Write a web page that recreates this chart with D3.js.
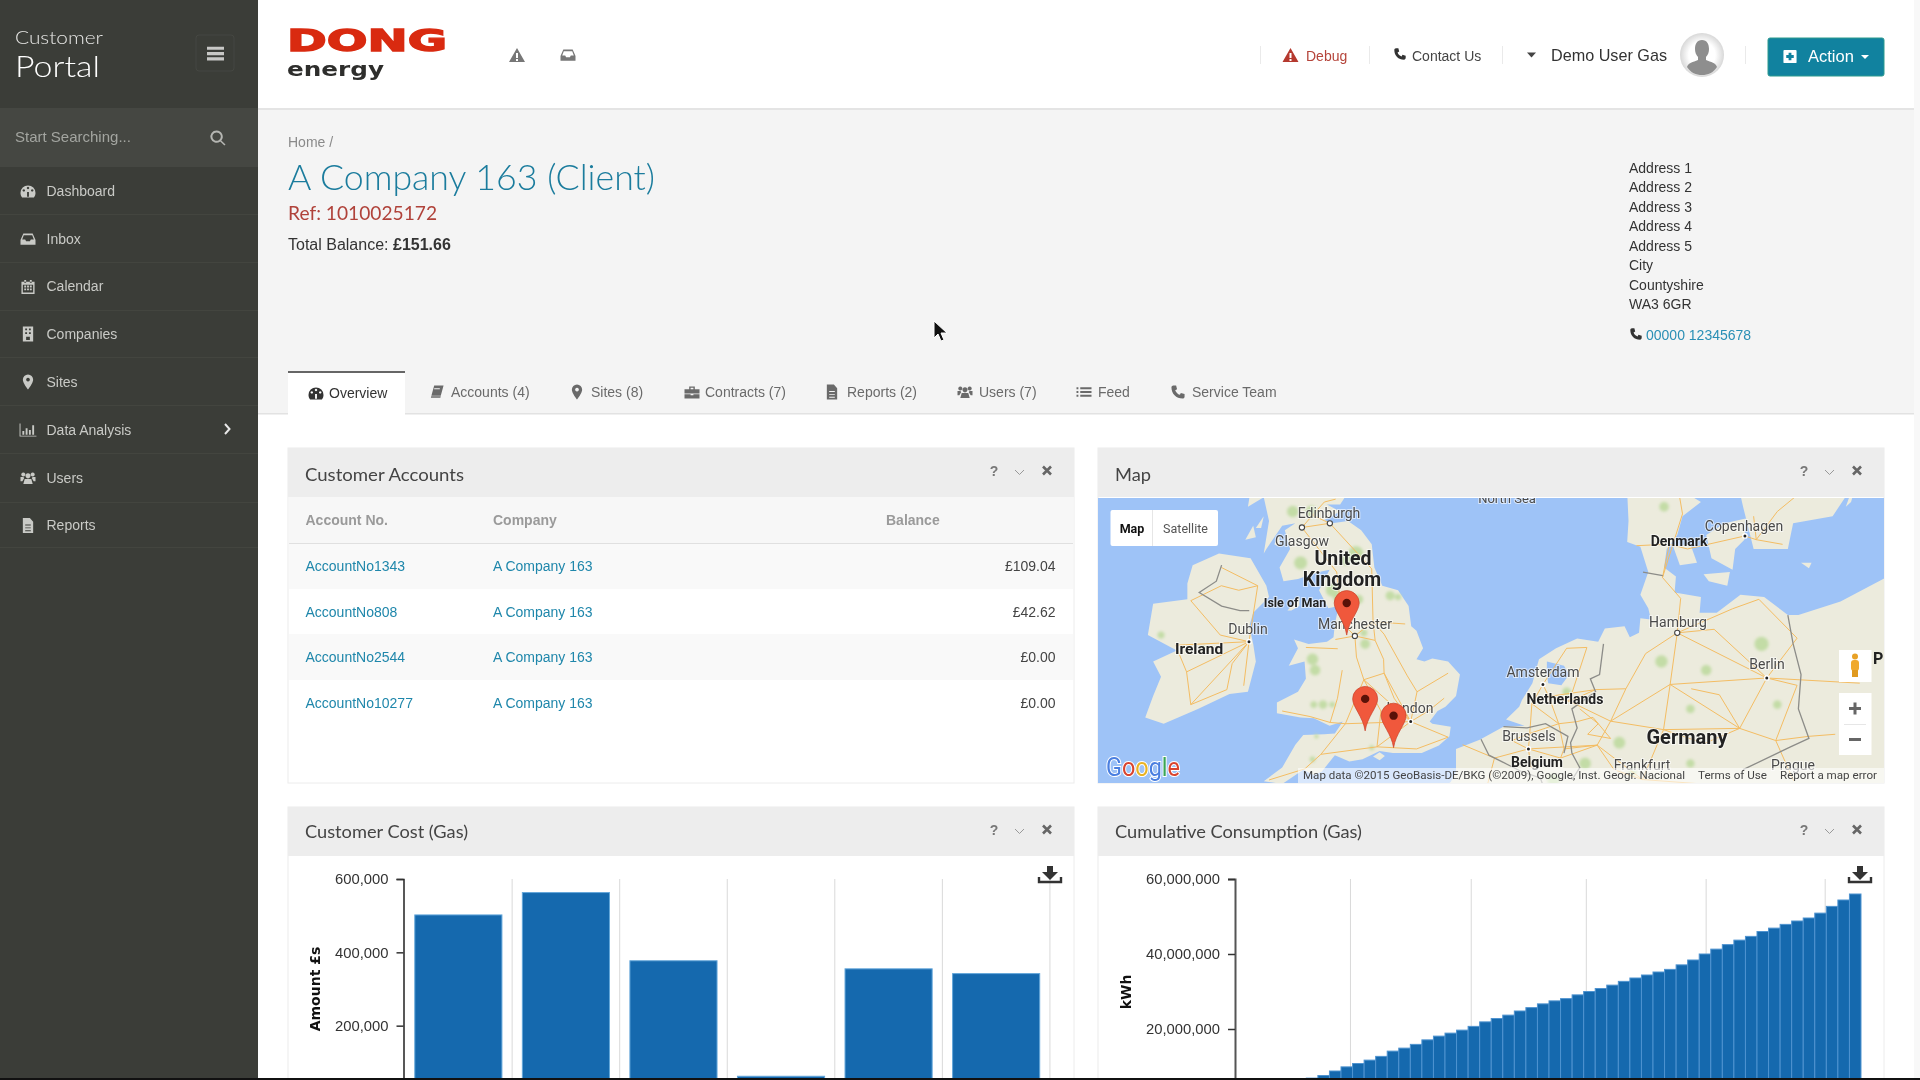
<!DOCTYPE html>
<html>
<head>
<meta charset="utf-8">
<title>Customer Portal</title>
<script src="https://cdn.jsdelivr.net/npm/d3@7"></script>
<style>
html, body { margin: 0; padding: 0; background: #fff; overflow: hidden; }
svg { display: block; filter: blur(0.4px); }
text { font-family: "Liberation Sans", Arial, sans-serif; }
</style>
</head>
<body>
<script>
// chart values
var costCategories = ['1', '2', '3', '4', '5', '6'];
var costValues = [502000, 563000, 377000, 62000, 355000, 342000];
var costTicks = [200000, 400000, 600000];

// cumulative consumption, millions of kWh, one entry per visible bar
var cumulativeValues = [1.3, 2.3, 3.2, 4.1, 5.1, 6.0, 6.9, 7.6, 8.8, 9.9, 10.8, 11.7, 12.7, 14.1, 14.9, 15.9, 17.1, 18.1,
	18.9, 19.7, 20.7, 21.9, 22.8, 23.7, 24.8, 25.7, 26.7, 27.5, 28.1, 29.1, 30.0, 30.8, 31.7, 32.7, 33.6, 34.4,
	35.2, 35.9, 37.1, 38.4, 40.0, 41.3, 42.5, 43.7, 44.7, 46.0, 46.9, 47.9, 48.8, 49.6, 50.9, 52.7, 54.4, 56.0];
var cumulativeTicks = [20000000, 40000000, 60000000];
var cumulativeGrid = [9.82, 20.27, 30.23, 40.6, 50.9];

// page content
var menuItems = [['Dashboard', 'gauge'], ['Inbox', 'inbox'], ['Calendar', 'calendar'], ['Companies', 'building'],
	['Sites', 'pin'], ['Data Analysis', 'bars'], ['Users', 'users'], ['Reports', 'file']];
var tabItems = [['Overview', 'gauge'], ['Accounts (4)', 'book'], ['Sites (8)', 'pin'], ['Contracts (7)', 'briefcase'],
	['Reports (2)', 'file'], ['Users (7)', 'users'], ['Feed', 'list'], ['Service Team', 'phone']];
var accounts = ['AccountNo1343', 'AccountNo808', 'AccountNo2544', 'AccountNo10277'];
var balances = ['£109.04', '£42.62', '£0.00', '£0.00'];
var addressLines = ['Address 1', 'Address 2', 'Address 3', 'Address 4', 'Address 5', 'City', 'Countyshire', 'WA3 6GR'];

// map geography as [lon, lat]
var siteMarkers = [[-2.55, 53.50], [-1.85, 51.28], [-0.77, 50.88]];
var greatBritain = [[-4,58.5],[-2,57.7],[-1.8,57.4],[-2.1,57.1],[-2.5,56.6],[-2.8,56.35],[-3.3,56.35],[-2.8,56.2],[-3.4,56.02],[-3.1,55.95],[-2.5,56.0],[-2.0,55.8],[-1.6,55.5],[-1.5,55.0],[-1.2,54.6],[-0.6,54.5],[-0.2,54.15],[-0.1,53.7],[0.1,53.6],[0.35,53.2],[0.1,52.95],[0.4,52.9],[0.7,52.97],[1.3,52.9],[1.75,52.6],[1.6,52.1],[1.2,51.85],[0.9,51.75],[0.6,51.5],[0.7,51.45],[1.4,51.38],[1.35,51.15],[0.95,50.93],[0.3,50.75],[-0.8,50.75],[-1.3,50.8],[-1.95,50.6],[-2.45,50.55],[-3.0,50.7],[-3.5,50.3],[-3.8,50.22],[-4.2,50.35],[-5.0,50.0],[-5.7,50.07],[-5.0,50.4],[-4.5,50.95],[-4.2,51.18],[-3.4,51.2],[-3.0,51.22],[-2.7,51.5],[-3.2,51.4],[-3.8,51.58],[-4.3,51.6],[-5.2,51.7],[-5.2,51.95],[-4.4,52.2],[-4.1,52.5],[-4.15,52.9],[-4.75,52.8],[-4.4,53.2],[-4.55,53.4],[-4.0,53.3],[-3.3,53.35],[-3.05,53.45],[-3.0,53.75],[-2.85,54.15],[-3.25,54.1],[-3.6,54.5],[-3.2,54.95],[-3.6,54.9],[-4.4,54.75],[-4.95,54.7],[-5.1,55.0],[-4.7,55.4],[-4.9,55.8],[-4.5,55.95],[-5.0,55.9],[-5.6,55.4],[-5.7,55.3],[-5.5,56.0],[-5.7,56.5],[-6.2,56.7],[-5.7,57.5],[-5,58.6]];
var ireland = [[-7.4,55.3],[-6.2,55.2],[-5.6,54.6],[-5.5,54.35],[-6.1,54.0],[-6.25,53.7],[-6.1,53.3],[-6.0,52.9],[-6.3,52.2],[-7.0,52.15],[-8.2,51.8],[-9.5,51.45],[-10.2,51.6],[-9.9,52.1],[-9.6,52.55],[-9.9,52.9],[-9.0,53.15],[-10.1,53.5],[-9.9,54.2],[-8.6,54.3],[-8.6,54.65],[-8.4,55.05]];
var continent = [[-5,48],[-1.6,48.6],[-1.8,49.7],[-1.25,49.7],[-1.1,49.35],[0.1,49.45],[1.4,50.05],[1.6,50.3],[1.6,50.85],[2.5,51.07],[3.4,51.38],[4.2,51.4],[3.5,51.55],[4.0,51.85],[4.1,52.0],[4.5,52.4],[4.75,52.95],[5.4,53.2],[6.2,53.42],[7.0,53.35],[7.25,53.65],[8.0,53.7],[8.2,53.45],[8.55,53.55],[8.6,53.88],[9.0,53.85],[8.9,54.1],[8.6,54.4],[8.9,54.9],[8.6,55.45],[8.1,55.55],[8.15,56.0],[8.1,56.6],[8.25,57.0],[9.6,57.2],[10.6,57.72],[10.5,57.0],[10.3,56.6],[10.9,56.4],[10.2,56.1],[10.0,55.7],[9.6,55.4],[9.5,55.0],[9.95,54.8],[9.9,54.45],[10.9,54.35],[10.85,54.0],[11.5,54.0],[12.4,54.4],[13.3,54.35],[14.2,53.95],[14.6,53.95],[16.2,54.25],[18.0,54.8],[18.5,54.6],[20,54.4],[20,45],[-5,45]];
var smallLands = [
	[[-4.8,54.05],[-4.35,54.35],[-4.35,54.15],[-4.65,54.05]],
	[[-6.4,55.6],[-6.1,55.9],[-6.0,55.65]],
	[[-6,55.85],[-5.7,56.1],[-5.8,55.85]],
	[[-6.3,56.3],[-5.7,56.5],[-6.2,56.65]],
	[[-5.3,55.5],[-5.1,55.7],[-5.1,55.45]],
	[[-1.55,50.67],[-1.3,50.77],[-1.1,50.68],[-1.3,50.58]],
	[[11.1,55.7],[11.8,55.95],[12.6,56.05],[12.55,55.6],[12.2,55.4],[12.1,54.95],[11.3,55.2]],
	[[9.85,55.45],[10.5,55.5],[10.75,55.1],[10.1,55.05]],
	[[11.0,54.85],[12.0,54.9],[11.9,54.6],[11.2,54.7]],
	[[12.5,56.3],[12.9,55.4],[14.2,55.4],[14.4,55.95],[15.9,56.1],[16.5,56.6],[16.5,58],[12,58],[12.0,57.5]],
	[[14.7,55.1],[15.1,55.1],[15.0,54.98]],
	[[16.4,56.3],[17.05,57.3],[16.6,56.4]]
];
var ijsselmeer = [[5.05,52.9],[5.4,52.85],[5.7,52.8],[5.9,52.6],[5.6,52.35],[5.1,52.4],[5.05,52.6]];
// lon, lat, radius in degrees
var parks = [[-3.1,54.5,0.14],[-2.9,54.35,0.1],[-1.85,53.3,0.11],[-1.9,53.55,0.08],[-0.9,54.38,0.1],[-0.6,54.35,0.07],[-3.85,52.95,0.13],[-3.75,52.7,0.12],[-3.45,51.9,0.1],[-3.1,51.9,0.07],[-3.8,51.9,0.08],[-1.6,50.88,0.06],[-3.85,50.6,0.07],[-3.7,51.15,0.05],[-2.2,55.3,0.16],[-2.6,55.15,0.1],[-3.9,56.2,0.12],[-4.6,56.2,0.12],[-4.3,55.1,0.14],[-2.1,54.3,0.1],
	[-8.0,53.2,0.05],[-9.6,53.5,0.08],[6.5,50.5,0.14],[7.8,51.0,0.14],[10.5,51.8,0.1],[9.4,52.9,0.14],[11.1,52.7,0.12],[13.2,53.3,0.16],[8.3,50.3,0.1],[10.5,50.5,0.1],[5.8,52.2,0.1],[9.5,56.3,0.1],[5.3,50.1,0.15],[13.8,51.9,0.1]];
var roads = [
	[[-3.19,55.95],[-4.25,55.86]], [[-3.19,55.95],[-1.6,54.97],[-1.55,53.8],[-1.47,53.38],[-1.15,52.95],[-1.13,52.63],[-0.12,51.5]],
	[[-4.25,55.86],[-2.93,54.9],[-2.7,53.76],[-2.24,53.48],[-2.18,53.0],[-1.9,52.48],[-2.6,51.45],[-3.53,50.72],[-4.14,50.37],[-5.5,50.1]],
	[[-1.9,52.48],[-0.12,51.5]], [[-0.12,51.5],[-2.6,51.45],[-3.18,51.48],[-3.94,51.62],[-5.0,51.75]], [[-0.12,51.5],[1.3,51.13]],
	[[-0.12,51.5],[-1.4,50.9],[-3.53,50.72]], [[-0.12,51.5],[0.12,52.2],[1.3,52.63]], [[0.12,52.2],[-0.25,52.57],[-1.13,53.52],[-1.55,53.8]],
	[[-2.98,53.4],[-2.24,53.48],[-1.55,53.8],[-0.33,53.75]], [[-2.89,53.19],[-4.1,53.22]], [[-1.4,50.9],[0.1,50.85],[1.3,51.13]],
	[[-1.9,52.48],[-1.13,52.63]], [[-3.18,51.48],[-2.9,52.05],[-2.72,52.7]], [[-1.25,51.75],[-1.9,52.48]], [[-1.25,51.75],[-1.4,50.9]], [[-0.12,51.5],[0.55,51.75],[1.15,52.05]],
	[[-2.24,53.48],[-1.47,53.38]], [[-0.12,51.5],[-0.75,52.05],[-1.13,52.63]], [[-4.25,55.86],[-3.85,56.12],[-3.19,55.95]], [[-3.85,56.12],[-3.4,56.4],[-2.97,56.46]],
	[[-6.26,53.35],[-5.93,54.6],[-7.31,55.0]], [[-6.26,53.35],[-8.47,51.9]], [[-6.26,53.35],[-8.63,52.66]], [[-6.26,53.35],[-6.46,52.34]], [[-6.26,53.35],[-9.05,53.27]],
	[[-5.93,54.6],[-6.65,54.5],[-7.31,54.6],[-8.47,54.27]], [[-6.26,53.35],[-7.35,53.5],[-8.47,54.27]], [[-8.47,51.9],[-8.63,52.66],[-9.05,53.27]], [[-7.1,52.25],[-6.9,52.85],[-6.26,53.35]], [[-7.1,52.25],[-8.47,51.9]],
	[[4.9,52.37],[4.48,51.92],[4.4,51.22],[4.35,50.85]], [[4.9,52.37],[5.12,52.09],[5.9,51.98],[7.47,51.51],[9.73,52.37],[13.4,52.52]],
	[[4.35,50.85],[6.96,50.94],[8.68,50.11],[11,50]], [[7.47,51.51],[6.96,50.94]], [[8.8,53.08],[10,53.55],[9.73,52.37]],
	[[10,53.55],[10.13,54.32],[9.44,54.78],[10.2,56.15],[9.92,57.05]], [[10,53.55],[13.4,52.52]], [[13.4,52.52],[12.37,51.34],[9.73,52.37]],
	[[12.37,51.34],[13.74,51.05],[14.42,50.08]], [[13.4,52.52],[14.55,53.43]], [[13.4,52.52],[16.93,52.4]], [[12.57,55.68],[10.39,55.4],[9.7,55.5]],
	[[12.57,55.68],[13,55.6],[13.8,56.2]], [[10,53.55],[12.1,54.09],[13.1,54.3]], [[3.06,50.63],[4.35,50.85]], [[3.06,50.63],[2.8,50]], [[1.85,50.95],[3.06,50.63]],
	[[8.8,53.08],[8.05,52.27],[6.9,52.25],[5.12,52.09]], [[12.37,51.34],[9.48,51.31],[8.68,50.11]], [[6.2,51.5],[6.8,51.6],[7.47,51.1],[6.6,51.2],[7.0,51.45],[6.3,51.8]],
	[[4.4,51.22],[5.5,51.45],[6.2,51.5]], [[4.48,51.92],[5.5,51.45],[5.7,50.85],[6.96,50.94]], [[9.48,51.31],[7.47,51.51]], [[14.55,53.43],[13.1,54.3]],
	[[7.47,51.51],[8.05,52.27]], [[6.96,50.94],[7.6,50.35],[8.68,50.11]], [[9.73,52.37],[9.48,51.31]], [[10,53.55],[11.4,53.63],[13.4,52.52]], [[11.6,52.13],[12.37,51.34]],
	[[12.37,51.34],[11.03,50.98],[9.48,51.31]], [[13.74,51.05],[14.98,51.15],[16,51.2]], [[14.55,52.35],[13.4,52.52]], [[14.55,52.35],[13.74,51.05]], [[10.53,52.27],[11.6,52.13]],
	[[5.9,51.98],[6.9,52.25]], [[5.9,51.98],[6.57,53.22],[5.8,53.2]], [[5.12,52.09],[5.5,51.45]], [[4.9,52.37],[5.8,53.2]],
	[[3.72,51.05],[4.35,50.85]], [[3.72,51.05],[4.4,51.22]], [[4.35,50.85],[5.57,50.63],[6.96,50.94]], [[4.35,50.85],[4.45,50.4]], [[5.57,50.63],[5.7,50.85]],
	[[9.7,55.5],[9.44,54.78]], [[8.45,55.47],[9.5,55.5]], [[13,55.6],[14.0,55.5]], [[13.8,56.2],[14.9,56.7]], [[12.9,56.1],[13,55.6]]
];
var borders = [
	[[-7.3,55.05],[-7.5,54.7],[-8.15,54.45],[-7.3,54.15],[-6.6,54.05],[-6.25,54.05]],
	[[7.2,53.3],[7.05,52.6],[6.7,52.5],[6.9,52.2],[6.0,51.8],[6.2,51.35],[5.95,51.0],[6.0,50.75],[6.3,50.4],[6,50.1]],
	[[3.4,51.38],[4.3,51.35],[5.0,51.45],[5.85,51.15],[5.7,50.75]],
	[[2.55,51.08],[2.85,50.7],[4.1,50.3],[4.8,50.15],[5.0,49.8]],
	[[8.7,54.9],[9.45,54.82]],
	[[14.2,53.95],[14.4,53.3],[14.7,52.6],[14.6,51.8],[15,51.1],[14.3,50.9],[12.5,50.35]]
];
// hollow and ringed town dots
var townsHollow = [[-3.19,55.95],[-4.25,55.86],[-2.24,53.48],[10,53.55]];
var townsRinged = [[-6.26,53.35],[4.9,52.37],[-0.12,51.5],[13.4,52.52],[12.57,55.68],[4.35,50.85]];
// label text, x, y, size, bold
var mapLabels = [['North Sea',1507,498,13,0],['Edinburgh',1329,513,14,0],['Glasgow',1302,541,14,0],['United',1343,558,19.5,1],['Kingdom',1342,579,19.5,1],
	['Isle of Man',1295,603,12.5,1],['Manchester',1355,624,14,0],['Dublin',1248,629,14,0],['Ireland',1199,649,15.5,1],['Amsterdam',1543,672,14,0],
	['Netherlands',1565,699,14,1],['Brussels',1529,736,14,0],['Belgium',1537,762,14,1],['Hamburg',1678,622,14,0],['Denmark',1679,541,14,1],
	['Copenhagen',1744,526,14,0],['Berlin',1767,664,14,0],['Germany',1687,737,20,1],['Frankfurt',1642,765,14,0],['Prague',1793,765,14,0],['London',1410,708,14,0]];

var iconPaths = {
	gauge: 'M8 2a8 8 0 0 1 8 8c0 1.8-.7 3.4-1.7 5H1.7C.7 13.4 0 11.8 0 10a8 8 0 0 1 8-8z M8 3.5a1.3 1.3 0 1 0 .01 0z M3.5 6a1.3 1.3 0 1 0 .01 0z M12.5 6a1.3 1.3 0 1 0 .01 0z M7 9h2v5H7z',
	inbox: 'M3 2h10l3 7v5H0V9z M3.5 4 1.8 8.5H5l1 2h4l1-2h3.2L12.5 4z',
	calendar: 'M1 3h14v13H1z M2.5 6v8.5h11V6z M4 1h2v3H4z M10 1h2v3h-2z M4 7h2v2H4z M7 7h2v2H7z M10 7h2v2h-2z M4 10h2v2H4z M7 10h2v2H7z M10 10h2v2h-2z',
	building: 'M2.5 0h11v16h-11z M5 2v2h2V2z M9 2v2h2V2z M5 6v2h2V6z M9 6v2h2V6z M6 11v3.5h4V11z',
	pin: 'M8 0a5.5 5.5 0 0 1 5.5 5.5C13.5 9 8 16 8 16S2.5 9 2.5 5.5A5.5 5.5 0 0 1 8 0z M8 3.5a2 2 0 1 0 .01 0z',
	bars: 'M-1 1h1v13h17v1H-1z M2 9h2v4H2z M5.5 6h2v7h-2z M9 8h2v5H9z M12.5 3h2v10h-2z',
	users: 'M8 3a2.7 2.7 0 1 1-.01 0z M3 2a2.2 2.2 0 1 1-.01 0z M13 2a2.2 2.2 0 1 1-.01 0z M4.5 9h7l1.5 5.5H3z M0 7h3l1 1-2 3.5H0z M13 7h3v4.5h-2l-2-3.5z',
	file: 'M2.5 0h7.5l3.5 4v12h-11z M5 7v1h6V7z M5 10v1h6v-1z M5 13v1h6v-1z',
	book: 'M5 1h10l-3 11H2z M1.8 12.5H12l-.4 1.5H1.5z M5 4v1h6V4z',
	briefcase: 'M0 5h16v10H0z M5 5V2h6v3H9.5V3.5h-3V5z M0 9.5v1h6.5v1h3v-1H16v-1z',
	list: 'M0 3h2v2H0z M4 3h12v2H4z M0 7h2v2H0z M4 7h12v2H4z M0 11h2v2H0z M4 11h12v2H4z',
	phone: 'M3 1h3l1 4-2 1c1 2.5 2.5 4 5 5l1-2 4 1v3c0 1-1 2-2 2C6 15 1 10 1 3c0-1 1-2 2-2z',
	warning: 'M8 1l8 14H0z M7 6v5h2V6z M7 12v2h2v-2z',
	search: 'M6.5 0a6.5 6.5 0 0 1 5 10.7L16 15l-1.2 1-4.4-4.4A6.5 6.5 0 1 1 6.5 0z M6.5 2a4.5 4.5 0 1 0 .01 0z',
	bars3: 'M0 2h16v3H0z M0 7h16v3H0z M0 12h16v3H0z',
	plusbox: 'M2 1h12a1 1 0 0 1 1 1v12a1 1 0 0 1-1 1H2a1 1 0 0 1-1-1V2a1 1 0 0 1 1-1z M6.5 4v2.5H4v3h2.5V12h3V9.5H12v-3H9.5V4z'
};

var svg = d3.select('body').append('svg').attr('width', 1920).attr('height', 1080);
var defs = svg.append('defs');
defs.append('filter').attr('id', 'soft').append('feGaussianBlur').attr('stdDeviation', 0.4);
defs.append('filter').attr('id', 'softer').append('feGaussianBlur').attr('stdDeviation', 1.6);
defs.append('clipPath').attr('id', 'mapClip').append('rect').attr('x', 1098).attr('y', 498).attr('width', 786).attr('height', 285);
var avatarGrad = defs.append('radialGradient').attr('id', 'avatarBg');
avatarGrad.append('stop').attr('offset', '60%').attr('stop-color', '#fff');
avatarGrad.append('stop').attr('offset', '100%').attr('stop-color', '#d8d8d8');

function rect(parent, x, y, w, h, fill) {
	return parent.append('rect').attr('x', x).attr('y', y).attr('width', w).attr('height', h).attr('fill', fill);
}

function label(parent, str, x, y, size, color, opts) {
	opts = opts || {};
	var t = parent.append('text').attr('x', x).attr('y', y).attr('dy', '0.35em').text(str)
		.attr('font-size', size).attr('fill', color)
		.attr('text-anchor', opts.anchor || 'start')
		.attr('font-weight', opts.weight || 'normal');
	if (opts.family) t.style('font-family', opts.family);
	if (opts.fit) t.attr('textLength', opts.fit).attr('lengthAdjust', 'spacingAndGlyphs');
	return t;
}

// icon paths are drawn in a 16px box, cx/cy is the centre of the box
function icon(parent, name, cx, cy, size, color) {
	var k = size / 16;
	return parent.append('path').attr('d', iconPaths[name]).attr('fill', color).attr('fill-rule', 'evenodd')
		.attr('transform', 'translate(' + (cx - 8 * k) + ',' + (cy - 8 * k) + ') scale(' + k + ')');
}

/* page background */
rect(svg, 258, 0, 1662, 1080, '#fff');
rect(svg, 258, 108, 1662, 306, '#f4f4f4');
rect(svg, 258, 108, 1662, 2, '#e4e4e4');
rect(svg, 258, 413, 1662, 1.5, '#e2e2e2');

/* sidebar */
rect(svg, 0, 0, 258, 1080, '#3b3d38');
rect(svg, 0, 108, 258, 59, '#454742');
label(svg, 'Customer', 15, 38, 18.5, '#e8e8e6', {family: 'Lato', weight: 300, fit: 88});
label(svg, 'Portal', 15, 66.5, 29, '#fff', {family: 'Lato', weight: 300, fit: 85});
svg.append('rect').attr('x', 196).attr('y', 35).attr('width', 38).attr('height', 36).attr('rx', 3)
	.attr('fill', 'none').attr('stroke', '#454742');
icon(svg, 'bars3', 215.5, 53, 17, '#c8c8c6');
label(svg, 'Start Searching...', 15, 137, 15, '#a3a5a0');
icon(svg, 'search', 218, 138, 15, '#b5b6b2');

var menuCentres = [191, 239, 286.5, 334, 382, 430, 478, 525.5];
var menuLines = [214, 262, 310, 357, 405, 453, 502, 547];
menuItems.forEach(function(d, i) {
	rect(svg, 0, menuLines[i], 258, 1, '#43453f');
	icon(svg, d[1], 28, menuCentres[i], 15, '#c9cac6');
	label(svg, d[0], 46.5, menuCentres[i], 14, '#c9cac6');
});
svg.append('path').attr('d', 'M225 424l4.5 5-4.5 5').attr('fill', 'none').attr('stroke', '#e8e8e8').attr('stroke-width', 2);

/* top bar */
label(svg, 'DONG', 287, 40, 30, '#d92a10', {family: 'DejaVu Sans', weight: 'bold', fit: 160})
	.attr('stroke', '#d92a10').attr('stroke-width', 1.4);
label(svg, 'energy', 287, 69, 19, '#2e2e2c', {family: 'DejaVu Sans', weight: 'bold', fit: 97});
icon(svg, 'warning', 517, 55, 16, '#777');
icon(svg, 'inbox', 568, 55, 15, '#777');

[1260, 1369, 1502, 1745].forEach(function(x) { rect(svg, x, 46, 1, 18, '#eaeaea'); });
icon(svg, 'warning', 1290.5, 55, 16, '#b5392f');
label(svg, 'Debug', 1306, 56, 14, '#b5443a');
icon(svg, 'phone', 1400, 54, 13, '#333');
label(svg, 'Contact Us', 1412, 56, 14, '#444');
svg.append('path').attr('d', 'M1527 52.5h9l-4.5 5z').attr('fill', '#444');
label(svg, 'Demo User Gas', 1551, 55, 16.2, '#333');
svg.append('circle').attr('cx', 1702).attr('cy', 55).attr('r', 22).attr('fill', 'url(#avatarBg)');
svg.append('path').attr('d', 'M1702 40c5 0 7 4 7 9 0 3-1 6-3 8v3c5 2 10 3 11 7-4 6-9 8-15 8s-11-2-15-8c1-4 6-5 11-7v-3c-2-2-3-5-3-8 0-5 2-9 7-9z').attr('fill', '#8e8e8e');
svg.append('rect').attr('x', 1768).attr('y', 38).attr('width', 116).attr('height', 38).attr('rx', 2)
	.attr('fill', '#11829f').attr('stroke', '#2d9a8e');
icon(svg, 'plusbox', 1790, 56.5, 15, '#fff');
label(svg, 'Action', 1808, 56.5, 16.5, '#fff');
svg.append('path').attr('d', 'M1861 55h8l-4 4z').attr('fill', '#fff');

/* heading block */
label(svg, 'Home /', 288, 142, 14, '#8a8a8a');
label(svg, 'A Company 163 (Client)', 288, 178, 35, '#1b7c9d', {family: 'Lato', weight: 300, fit: 367});
label(svg, 'Ref: 1010025172', 288, 213, 19, '#b0423a', {family: 'Lato', fit: 149});
label(svg, 'Total Balance:', 288, 244, 16, '#333');
label(svg, '£151.66', 393, 244, 16, '#333', {weight: 'bold'});
addressLines.forEach(function(d, i) {
	label(svg, d, 1629, 168 + i * 19.5, 14, '#333');
});
icon(svg, 'phone', 1636, 334, 13, '#333');
label(svg, '00000 12345678', 1646, 335, 14, '#2a8fb5');

/* tabs */
rect(svg, 288, 371, 117, 44, '#fff');
rect(svg, 288, 371, 117, 2, '#666');
var tabIconX = [316, 437, 577, 692, 832, 965, 1084, 1178];
var tabTextX = [329, 451, 591, 705, 847, 979, 1098, 1192];
tabItems.forEach(function(d, i) {
	var cy = i === 0 ? 393 : 392;
	var col = i === 0 ? '#333' : '#6a6a6a';
	icon(svg, d[1], tabIconX[i], cy, 15, col);
	label(svg, d[0], tabTextX[i], cy, 14, col);
});

/* panels */
function panel(x, y, w, h, title, fit, titleDy) {
	var headH = 49;
	svg.append('rect').attr('x', x).attr('y', y).attr('width', w).attr('height', h).attr('fill', '#fff').attr('stroke', '#ececec');
	rect(svg, x, y, w, headH, '#ededed');
	label(svg, title, x + 17, y + titleDy, 18, '#444', {family: 'Lato', fit: fit});
	label(svg, '?', x + w - 80, y + 23, 14, '#777', {weight: 'bold', anchor: 'middle'});
	svg.append('path').attr('d', 'M' + (x + w - 59) + ' ' + (y + 22) + 'l4.5 4.5 4.5-4.5').attr('fill', 'none').attr('stroke', '#999');
	svg.append('path').attr('d', 'M' + (x + w - 31) + ' ' + (y + 18.5) + 'l8 8m0-8l-8 8').attr('fill', 'none').attr('stroke', '#666').attr('stroke-width', 2.6);
}
panel(288, 448, 786, 335, 'Customer Accounts', 159, 27);
panel(1098, 448, 786, 335, 'Map', 36, 27);
panel(288, 807, 786, 280, 'Customer Cost (Gas)', 163, 25);
panel(1098, 807, 786, 280, 'Cumulative Consumption (Gas)', 247, 25);

/* accounts table */
rect(svg, 289, 497, 784, 46, '#f7f7f7');
rect(svg, 289, 543, 784, 1, '#e0e0e0');
rect(svg, 289, 544, 784, 45, '#f9f9f9');
rect(svg, 289, 634, 784, 46, '#f9f9f9');
label(svg, 'Account No.', 305.5, 520, 14, '#9a9a9a', {weight: 'bold'});
label(svg, 'Company', 493, 520, 14, '#9a9a9a', {weight: 'bold'});
label(svg, 'Balance', 886, 520, 14, '#9a9a9a', {weight: 'bold'});
var rowY = d3.scalePoint().domain(d3.range(accounts.length)).range([566.5, 703]);
accounts.forEach(function(d, i) {
	label(svg, d, 305.5, rowY(i), 14, '#1f87ab');
	label(svg, 'A Company 163', 493, rowY(i), 14, '#1f87ab');
	label(svg, balances[i], 1055.5, rowY(i), 14, '#444', {anchor: 'end'});
});

/* map, projected so that Dublin and Berlin land where they do in the picture */
var projection = d3.geoMercator().scale(1509).center([-6.26, 53.35]).translate([1249, 641.7]);
var geoPath = d3.geoPath(projection);
var mapG = svg.append('g').attr('clip-path', 'url(#mapClip)');
var mapArt = mapG.append('g').attr('filter', 'url(#soft)');
var lineClosed = d3.line().x(function(p) { return projection(p)[0]; }).y(function(p) { return projection(p)[1]; }).curve(d3.curveLinearClosed);
var lineOpen = d3.line().x(function(p) { return projection(p)[0]; }).y(function(p) { return projection(p)[1]; });

rect(mapArt, 1098, 498, 786, 285, '#9ec3f7');
mapArt.selectAll('.land').data([greatBritain, ireland, continent].concat(smallLands)).enter().append('path')
	.attr('class', 'land').attr('d', lineClosed).attr('fill', '#ecebdd');
mapArt.append('path').attr('d', lineClosed(ijsselmeer)).attr('fill', '#9ec3f7');
mapArt.append('g').attr('filter', 'url(#softer)').selectAll('.park').data(parks).enter().append('path').attr('class', 'park')
	.attr('d', function(d) { return geoPath(d3.geoCircle().center([d[0], d[1]]).radius(d[2])()); })
	.attr('fill', '#c3dca6');
mapArt.selectAll('.road').data(roads).enter().append('path').attr('class', 'road')
	.attr('d', lineOpen).attr('fill', 'none').attr('stroke', '#f4bd63').attr('stroke-width', 1);
mapArt.selectAll('.border').data(borders).enter().append('path').attr('class', 'border')
	.attr('d', lineOpen).attr('fill', 'none').attr('stroke', '#8c8c88').attr('stroke-width', 1.3);

mapLabels.forEach(function(d) {
	var t = label(mapG, d[0], d[1], d[2], d[3], d[4] ? '#222' : '#4a4a4a', {anchor: 'middle', weight: d[4] ? 'bold' : 'normal', family: 'Roboto'});
	t.attr('stroke', '#fff').attr('stroke-width', 2).attr('stroke-opacity', 0.6).attr('paint-order', 'stroke');
});
label(mapG, 'P', 1873, 658, 16, '#222', {weight: 'bold', family: 'Roboto'});

mapG.selectAll('.hollow').data(townsHollow).enter().append('circle').attr('class', 'hollow')
	.attr('cx', function(d) { return projection(d)[0]; }).attr('cy', function(d) { return projection(d)[1]; })
	.attr('r', 2.6).attr('fill', '#fff').attr('stroke', '#444').attr('stroke-width', 1.1);
mapG.selectAll('.ringed').data(townsRinged).enter().append('circle').attr('class', 'ringed')
	.attr('cx', function(d) { return projection(d)[0]; }).attr('cy', function(d) { return projection(d)[1]; })
	.attr('r', 2.2).attr('fill', '#222').attr('stroke', '#fff').attr('stroke-width', 1.4);

// pins: tip is the site position
mapG.selectAll('.pin').data(siteMarkers).enter().append('g').attr('class', 'pin')
	.attr('transform', function(d) { var p = projection(d); return 'translate(' + p[0] + ',' + p[1] + ')'; })
	.each(function() {
		var g = d3.select(this);
		g.append('path').attr('d', 'M0 0C-2-14-12.5-24-12.5-32a12.5 12.5 0 0 1 25 0C12.5-24 2-14 0 0z')
			.attr('fill', '#f0583c').attr('stroke', '#c9432c').attr('stroke-width', 0.7);
		g.append('circle').attr('cy', -32).attr('r', 4.2).attr('fill', '#5a1208');
	});

// map controls
var ctrl = mapG.append('g');
rect(ctrl, 1110.5, 510, 107.5, 36, '#fff').attr('rx', 2);
rect(ctrl, 1152, 510, 1, 36, '#e6e6e6');
label(ctrl, 'Map', 1132, 528.5, 12.5, '#111', {anchor: 'middle', weight: 'bold', family: 'Roboto'});
label(ctrl, 'Satellite', 1185.5, 528.5, 12.5, '#555', {anchor: 'middle', family: 'Roboto'});
rect(ctrl, 1839, 650, 32.5, 32, '#fff');
ctrl.append('circle').attr('cx', 1855).attr('cy', 656.5).attr('r', 3).attr('fill', '#e8a126');
rect(ctrl, 1851, 660, 8, 11, '#f0a92d').attr('rx', 3);
rect(ctrl, 1852, 670, 6, 7, '#e09a20');
rect(ctrl, 1839, 693, 32.5, 62, '#fff');
rect(ctrl, 1844, 724, 22, 1, '#e6e6e6');
rect(ctrl, 1849, 707, 12, 3, '#666');
rect(ctrl, 1853.5, 702.5, 3, 12, '#666');
rect(ctrl, 1849, 738, 12, 3, '#666');

var logo = mapG.append('text').attr('x', 1106).attr('y', 767).attr('dy', '0.35em').attr('font-size', 25)
	.attr('textLength', 74).attr('lengthAdjust', 'spacingAndGlyphs').attr('stroke', '#fff').attr('stroke-width', 2).attr('paint-order', 'stroke').style('font-family', 'Roboto');
var logoColors = ['#4a7fe0', '#d9442f', '#e9b323', '#4a7fe0', '#3aa655', '#d9442f'];
'Google'.split('').forEach(function(c, i) { logo.append('tspan').attr('fill', logoColors[i]).text(c); });

rect(mapG, 1298, 768, 586, 15, '#fff').attr('opacity', 0.6);
label(mapG, 'Map data ©2015 GeoBasis-DE/BKG (©2009), Google, Inst. Geogr. Nacional', 1303, 775.5, 11, '#444', {family: 'Roboto', fit: 382});
label(mapG, 'Terms of Use', 1698, 775.5, 11, '#444', {family: 'Roboto', fit: 69});
label(mapG, 'Report a map error', 1780, 775.5, 11, '#444', {family: 'Roboto', fit: 97});

/* shared chart bits */
function downloadIcon(cx, cy) {
	svg.append('path').attr('fill', '#333')
		.attr('d', 'M' + (cx - 3) + ' ' + (cy - 9) + 'h6v6h5l-8 8-8-8h5z');
	svg.append('path').attr('fill', 'none').attr('stroke', '#333').attr('stroke-width', 2.4)
		.attr('d', 'M' + (cx - 11) + ' ' + (cy + 2) + 'v5h22v-5');
}

function styleAxis(g, color, width) {
	g.selectAll('text').attr('font-size', 14.8).attr('fill', '#333').style('font-family', '"Liberation Sans"');
	g.selectAll('.tick line').attr('stroke', '#333').attr('stroke-width', 1.5);
	g.select('.domain').attr('stroke', color).attr('stroke-width', width);
}

/* customer cost */
var costX = d3.scaleBand().domain(costCategories).range([403.5, 1051]).paddingInner(0.19).paddingOuter(0.105);
var costY = d3.scaleLinear().domain([0, 600000]).range([1099, 879]);

var costStep = costX.step();
svg.append('g').selectAll('line').data(costCategories).enter().append('line')
	.attr('x1', function(d) { return costX(d) + costX.bandwidth() + (costStep - costX.bandwidth()) / 2; })
	.attr('x2', function(d) { return costX(d) + costX.bandwidth() + (costStep - costX.bandwidth()) / 2; })
	.attr('y1', 879).attr('y2', 1080).attr('stroke', '#d9d9d9');

svg.append('g').selectAll('rect').data(costValues).enter().append('rect')
	.attr('x', function(d, i) { return costX(costCategories[i]); })
	.attr('width', costX.bandwidth())
	.attr('y', function(d) { return costY(d); })
	.attr('height', function(d) { return costY(0) - costY(d); })
	.attr('fill', '#1569ae').attr('stroke', '#63a6da');

var costAxis = svg.append('g').attr('transform', 'translate(403.5,0)')
	.call(d3.axisLeft(costY).tickValues(costTicks).tickSize(7).tickPadding(8).tickFormat(d3.format(',')));
styleAxis(costAxis, '#222', 1.5);
label(svg, 'Amount £s', 0, 0, 14, '#111', {family: 'DejaVu Sans', weight: 'bold', anchor: 'middle'})
	.attr('transform', 'translate(315.5,989) rotate(-90)');
downloadIcon(1050, 875);

/* cumulative consumption */
var cumX = d3.scaleBand().domain(d3.range(cumulativeValues.length)).range([1237, 1861]).padding(0);
var cumGridX = d3.scaleLinear().domain([0, cumulativeValues.length]).range([1237, 1861]);
var cumY = d3.scaleLinear().domain([0, 60000000]).range([1104, 879]);

svg.append('g').selectAll('line').data(cumulativeGrid).enter().append('line')
	.attr('x1', function(d) { return cumGridX(d); }).attr('x2', function(d) { return cumGridX(d); })
	.attr('y1', 879).attr('y2', 1080).attr('stroke', '#d9d9d9');

svg.append('g').selectAll('rect').data(cumulativeValues).enter().append('rect')
	.attr('x', function(d, i) { return cumX(i); })
	.attr('width', cumX.bandwidth())
	.attr('y', function(d) { return cumY(d * 1000000); })
	.attr('height', function(d) { return cumY(0) - cumY(d * 1000000); })
	.attr('fill', '#1569ae').attr('stroke', '#4f93d0').attr('stroke-width', 1);

var cumAxis = svg.append('g').attr('transform', 'translate(1235,0)')
	.call(d3.axisLeft(cumY).tickValues(cumulativeTicks).tickSize(7).tickPadding(8).tickFormat(d3.format(',')));
styleAxis(cumAxis, '#555', 2);
label(svg, 'kWh', 0, 0, 14, '#111', {family: 'DejaVu Sans', weight: 'bold', anchor: 'middle'})
	.attr('transform', 'translate(1126,992) rotate(-90)');
downloadIcon(1860, 875);

/* mouse pointer, right edge strip and bottom line of the frame */
svg.append('path').attr('d', 'M934 321v17l4-4 3 7 3-1-3-7h6z').attr('fill', '#111').attr('stroke', '#fff');
rect(svg, 1914, 0, 6, 1080, '#f8f8f8');
rect(svg, 0, 1078, 1920, 2, '#111');
</script>
</body>
</html>
